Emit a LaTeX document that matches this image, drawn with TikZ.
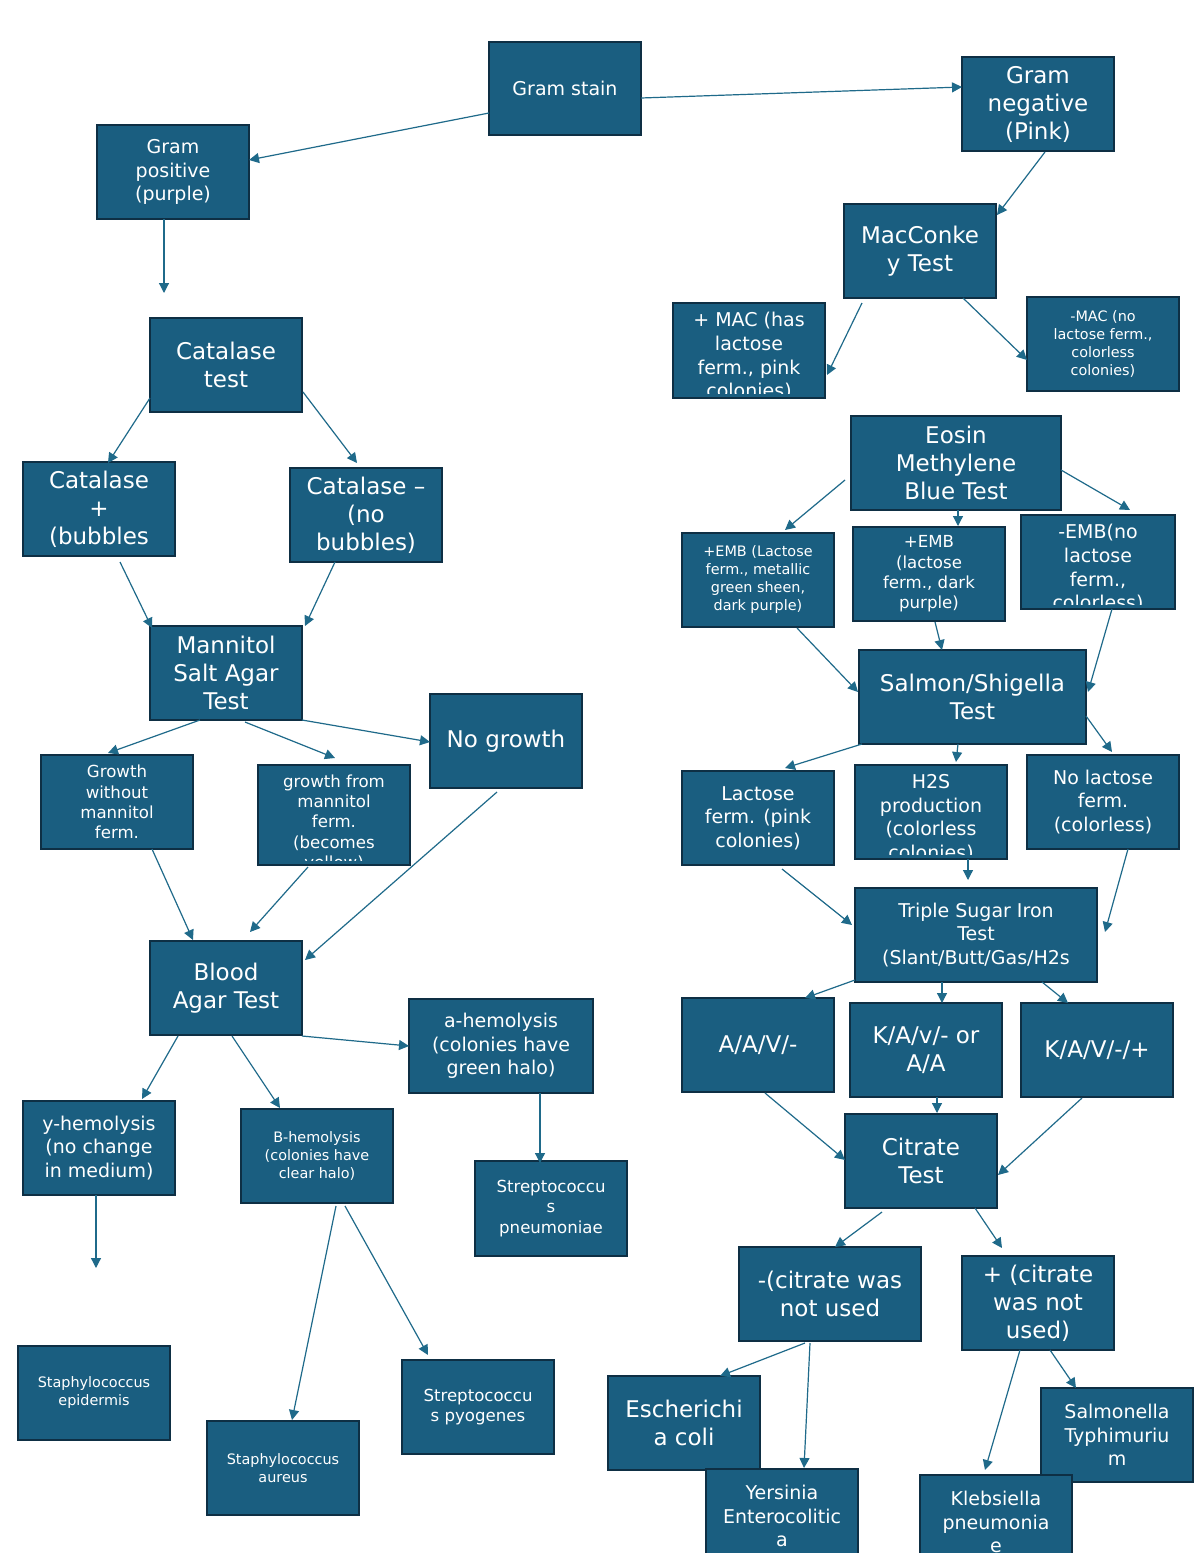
\documentclass[tikz,border=0pt]{standalone}
\usepackage{fontspec}
\setmainfont{DejaVu Sans}
\usetikzlibrary{arrows.meta}
\definecolor{boxfill}{HTML}{1A5E80}
\definecolor{boxedge}{HTML}{0E2F44}
\definecolor{linec}{HTML}{1F6A8A}
\newcommand\fbig{\fontsize{11.5}{14}\selectfont}
\newcommand\fmed{\fontsize{9.5}{11.8}\selectfont}
\newcommand\fsml{\fontsize{8.3}{10.2}\selectfont}
\newcommand\ftiny{\fontsize{7.2}{9}\selectfont}
\newcommand\bx[7]{%
 \node[box, minimum width={(#4-#2)*0.5pt}, minimum height={(#5-#3)*0.5pt}] (#1) at ({(#2+#4)/2},{(#3+#5)/2}) {};
 \begin{scope}\clip (#2,#3+5) rectangle (#4,#5-5);
 \node[txt,font=#6] at (#1.center) {#7};\end{scope}}
\newcommand\bxt[7]{%
 \node[box, minimum width={(#4-#2)*0.5pt}, minimum height={(#5-#3)*0.5pt}] (#1) at ({(#2+#4)/2},{(#3+#5)/2}) {};
 \begin{scope}\clip (#2,#3+5) rectangle (#4,#5-5);
 \node[txt,font=#6,anchor=north] at ({(#2+#4)/2},#3+9) {#7};\end{scope}}
\tikzset{
 box/.style={draw=boxedge, line width=1pt, fill=boxfill, inner sep=0pt},
 txt/.style={text=white, align=center, inner sep=0pt},
 conn/.style={draw=linec, line width=0.6pt, -{Triangle[length=5pt,width=5pt]}}
}
\begin{document}
\begin{tikzpicture}[x=0.5pt,y=-0.5pt]
\fill[white] (0,0) rectangle (1200,1553);
\useasboundingbox (0,0) rectangle (1200,1553);
\bx{gs}{489}{42}{641}{135}{\fmed}{Gram stain}
\bx{gp}{97}{125}{249}{219}{\fmed}{Gram\\positive\\(purple)}
\bx{gn}{962}{57}{1114}{151}{\fbig}{Gram\\negative\\(Pink)}
\bx{mac}{844}{204}{996}{298}{\fbig}{MacConke\\y Test}
\bxt{pmac}{673}{303}{825}{398}{\fmed}{+ MAC (has\\lactose\\ferm., pink\\colonies)}
\bx{nmac}{1027}{297}{1179}{391}{\ftiny}{-MAC (no\\lactose ferm.,\\colorless\\colonies)}
\bx{cat}{150}{318}{302}{412}{\fbig}{Catalase\\test}
\bx{catp}{23}{462}{175}{556}{\fbig}{Catalase\\+\\(bubbles}
\bx{catn}{290}{468}{442}{562}{\fbig}{Catalase –\\(no\\bubbles)}
\bx{emb}{851}{416}{1061}{510}{\fbig}{Eosin\\Methylene\\Blue Test}
\bx{embl}{682}{533}{834}{627}{\ftiny}{+EMB (Lactose\\ferm., metallic\\green sheen,\\dark purple)}
\bx{embm}{853}{527}{1005}{621}{\fsml}{+EMB\\(lactose\\ferm., dark\\purple)}
\bxt{embn}{1021}{515}{1175}{609}{\fmed}{-EMB(no\\lactose\\ferm.,\\colorless)}
\bx{msa}{150}{626}{302}{720}{\fbig}{Mannitol\\Salt Agar\\Test}
\bx{nog}{430}{694}{582}{788}{\fbig}{No growth}
\bx{gw}{41}{755}{193}{849}{\fsml}{Growth\\without\\mannitol\\ferm.}
\bxt{gf}{258}{765}{410}{865}{\fsml}{growth from\\mannitol\\ferm.\\(becomes\\yellow)}
\bx{ss}{859}{650}{1086}{744}{\fbig}{Salmon/Shigella\\Test}
\bx{lf}{682}{771}{834}{865}{\fmed}{Lactose\\ferm. (pink\\colonies)}
\bxt{h2s}{855}{765}{1007}{859}{\fmed}{H2S\\production\\(colorless\\colonies)}
\bx{nlf}{1027}{755}{1179}{849}{\fmed}{No lactose\\ferm.\\(colorless)}
\bx{tsi}{855}{888}{1097}{982}{\fmed}{Triple Sugar Iron\\Test\\(Slant/Butt/Gas/H2s}
\bx{ba}{150}{941}{302}{1035}{\fbig}{Blood\\Agar Test}
\bx{ah}{409}{999}{593}{1093}{\fmed}{a-hemolysis\\(colonies have\\green halo)}
\bx{aav}{682}{998}{834}{1092}{\fbig}{A/A/V/-}
\bx{kav}{850}{1003}{1002}{1097}{\fbig}{K/A/v/- or\\A/A}
\bx{kavp}{1021}{1003}{1173}{1097}{\fbig}{K/A/V/-/+}
\bx{yh}{23}{1101}{175}{1195}{\fmed}{y-hemolysis\\(no change\\in medium)}
\bx{bh}{241}{1109}{393}{1203}{\ftiny}{B-hemolysis\\(colonies have\\clear halo)}
\bx{spn}{475}{1161}{627}{1256}{\fsml}{Streptococcu\\s\\pneumoniae}
\bx{cit}{845}{1114}{997}{1208}{\fbig}{Citrate\\Test}
\bx{cn}{739}{1247}{921}{1341}{\fbig}{-(citrate was\\not used}
\bx{cp}{962}{1256}{1114}{1350}{\fbig}{+ (citrate\\was not\\used)}
\bx{sep}{18}{1346}{170}{1440}{\ftiny}{Staphylococcus\\epidermis}
\bx{spy}{402}{1360}{554}{1454}{\fsml}{Streptococcu\\s pyogenes}
\bx{sau}{207}{1421}{359}{1515}{\ftiny}{Staphylococcus\\aureus}
\bx{eco}{608}{1376}{760}{1470}{\fbig}{Escherichi\\a coli}
\bx{yer}{706}{1469}{858}{1563}{\fmed}{Yersinia\\Enterocolitic\\a}
\bx{sal}{1041}{1388}{1193}{1482}{\fmed}{Salmonella\\Typhimuriu\\m}
\bx{kle}{920}{1475}{1072}{1569}{\fmed}{Klebsiella\\pneumonia\\e}
% connectors
\draw[conn] (489,113) -- (249,160);
\draw[conn] (641,98) -- (962,87);
\draw[conn] (1045,152) -- (997,215);
\draw[conn] (164,219) -- (164,293);
\draw[conn] (862,303) -- (827,375);
\draw[conn] (963,298) -- (1027,360);
\draw[conn] (150,398) -- (108,463);
\draw[conn] (303,392) -- (357,463);
\draw[conn] (120,562) -- (152,628);
\draw[conn] (335,562) -- (305,626);
\draw[conn] (845,480) -- (785,530);
\draw[conn] (958,510) -- (958,526);
\draw[conn] (1061,470) -- (1130,510);
\draw[conn] (797,628) -- (858,692);
\draw[conn] (935,622) -- (942,650);
\draw[conn] (1112,609) -- (1088,692);
\draw[conn] (200,720) -- (108,753);
\draw[conn] (245,722) -- (335,758);
\draw[conn] (302,720) -- (430,742);
\draw[conn] (152,849) -- (193,940);
\draw[conn] (308,867) -- (250,932);
\draw[conn] (497,792) -- (305,960);
\draw[conn] (862,744) -- (785,768);
\draw[conn] (958,744) -- (956,762);
\draw[conn] (1086,716) -- (1112,752);
\draw[conn] (782,869) -- (852,925);
\draw[conn] (968,859) -- (968,880);
\draw[conn] (1128,849) -- (1105,932);
\draw[conn] (855,980) -- (805,998);
\draw[conn] (942,982) -- (942,1003);
\draw[conn] (1042,982) -- (1068,1003);
\draw[conn] (302,1036) -- (409,1046);
\draw[conn] (178,1036) -- (142,1099);
\draw[conn] (232,1036) -- (280,1108);
\draw[conn] (540,1093) -- (540,1163);
\draw[conn] (96,1195) -- (96,1268);
\draw[conn] (336,1206) -- (292,1420);
\draw[conn] (345,1206) -- (428,1355);
\draw[conn] (765,1093) -- (845,1160);
\draw[conn] (937,1097) -- (937,1113);
\draw[conn] (1082,1098) -- (998,1175);
\draw[conn] (882,1212) -- (835,1247);
\draw[conn] (975,1208) -- (1002,1248);
\draw[conn] (805,1343) -- (720,1376);
\draw[conn] (810,1343) -- (804,1468);
\draw[conn] (1020,1350) -- (985,1470);
\draw[conn] (1050,1350) -- (1076,1388);
\end{tikzpicture}
\end{document}
